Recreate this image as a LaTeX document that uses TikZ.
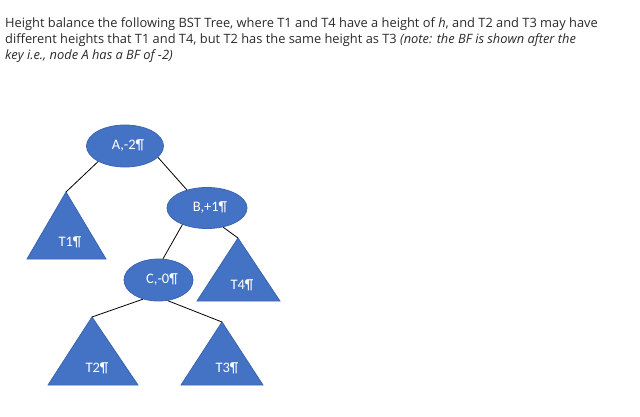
\documentclass[tikz,border=0pt]{standalone}
\usepackage{fontspec}
\setmainfont{Open Sans}
\newfontfamily\shapefont{Carlito}
\usetikzlibrary{shapes.geometric}
\definecolor{nodeblue}{HTML}{4472C4}
\definecolor{nodeline}{HTML}{3B65B0}
\definecolor{headtext}{HTML}{2B2B2B}
\tikzset{
  treenode/.style={ellipse, fill=nodeblue, draw=nodeline, line width=0.8pt, inner sep=0pt},
  subtree/.style={fill=nodeblue, draw=nodeline, line width=0.8pt},
  sublabel/.style={text=white, font=\shapefont\fontsize{14.5}{16}\selectfont, inner sep=0pt},
  link/.style={draw=black, line width=0.8pt},
}
\begin{document}
\begin{tikzpicture}[x=1pt, y=-1pt]
\useasboundingbox (0,0) rectangle (640,416);
\fill[white] (0,0) rectangle (640,416);
\node[anchor=north west, inner sep=0pt, align=left, text=headtext,
      font=\fontsize{12.85}{16}\selectfont] (head) at (5,17.5)
  {Height balance the following BST Tree, where T1 and T4 have a height of \textit{h}, and T2 and T3 may have\\
   different heights that T1 and T4, but T2 has the same height as T3 \textit{(note: the BF is shown after the}\\
   \textit{key i.e., node A has a BF of -2)}};
% ellipses
\node[treenode, minimum width=77pt, minimum height=42pt] (A) at (125,146) {};
\node[treenode, minimum width=80pt, minimum height=41pt] (B) at (207,208) {};
\node[treenode, minimum width=69pt, minimum height=42pt] (C) at (158.5,280) {};
\node[sublabel] (Atext) at (128,146) {A,-2¶};
\node[sublabel] (Btext) at (210,208) {B,+1¶};
\node[sublabel] (Ctext) at (162,280) {C,-0¶};
% subtrees
\coordinate (T1top) at (66,192);
\coordinate (T4top) at (238,238);
\coordinate (T2top) at (92,317);
\coordinate (T3top) at (222,322);
\path[subtree] (T1top) -- (106,259) -- (27,259) -- cycle;
\path[subtree] (T4top) -- (280,301) -- (197,301) -- cycle;
\path[subtree] (T2top) -- (138,385) -- (48,385) -- cycle;
\path[subtree] (T3top) -- (263,385) -- (181,385) -- cycle;
\node[sublabel] (T1) at (70,242) {T1¶};
\node[sublabel] (T4) at (242,285) {T4¶};
\node[sublabel] (T2) at (97,368) {T2¶};
\node[sublabel] (T3) at (227,368) {T3¶};
% connectors
\draw[link] (A.210) -- (T1top);
\draw[link] (A.341) -- (B.138);
\draw[link] (B.214) -- (C.78);
\draw[link] (B.310) -- (T4top);
\draw[link] (C.231) -- (T2top);
\draw[link] (C.294) -- (T3top);
\end{tikzpicture}
\end{document}
